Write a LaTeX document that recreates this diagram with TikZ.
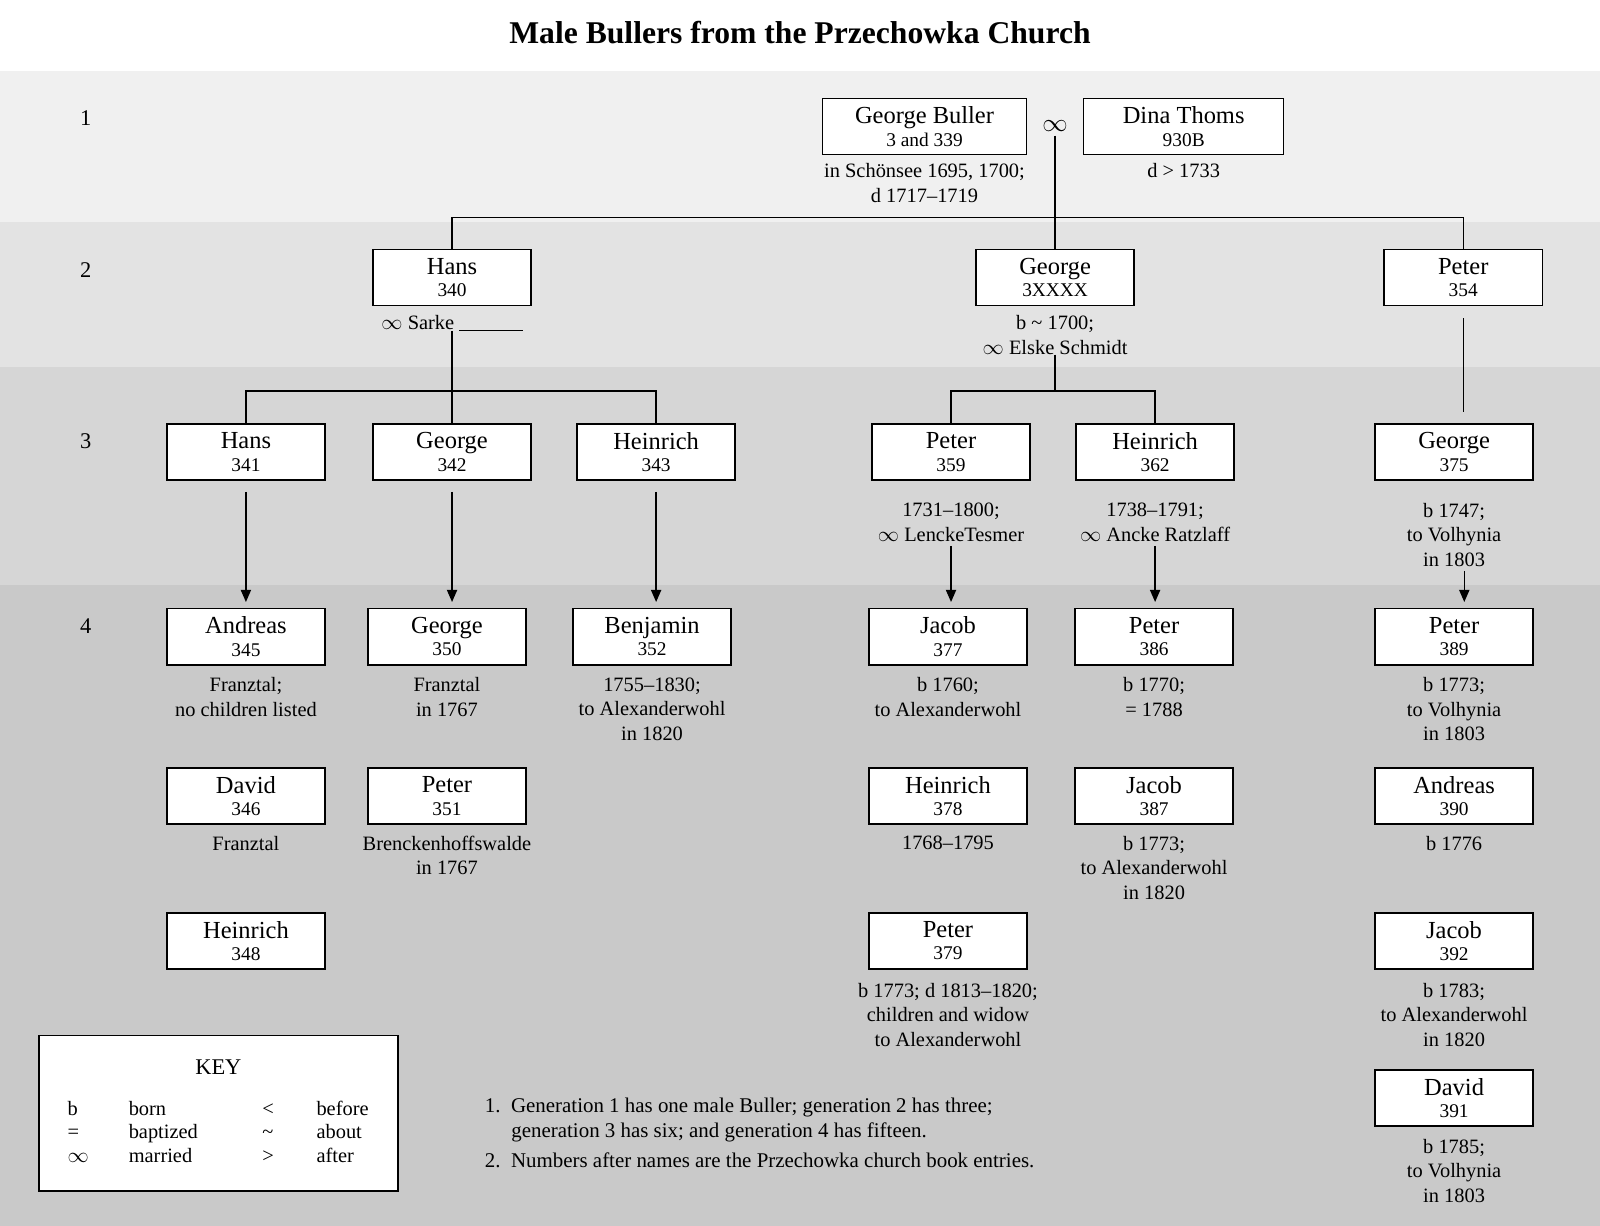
\documentclass[tikz,border=0pt]{standalone}
\usepackage{fontspec}
\setmainfont{Liberation Serif}
\usetikzlibrary{arrows.meta}
\begin{document}
\begin{tikzpicture}[x=1pt,y=-1pt,
 box/.style={draw,fill=white,line width=1.5pt,minimum width=155pt,minimum height=55pt,inner sep=0pt,align=center,font=\fontsize{24}{24}\selectfont},
 lab/.style={anchor=north,align=center,font=\fontsize{20}{24}\selectfont,inner sep=0pt},
 ln/.style={line width=1.5pt},
 ar/.style={line width=1.5pt,-{Triangle[length=12pt,width=10pt]}}]
\useasboundingbox (0,0) rectangle (1568,1201);
\fill[white] (0,0) rectangle (1568,70);
\fill[black!6] (0,70) rectangle (1568,218);
\fill[black!11] (0,218) rectangle (1568,360);
\fill[black!16] (0,360) rectangle (1568,573);
\fill[black!21] (0,573) rectangle (1568,1201);
\newcommand{\bx}[4]{\node[box] (#1) at (#2) {#3\\[-2pt]{\fontsize{19}{20}\selectfont #4}};}
\node[font=\fontsize{31}{31}\selectfont\bfseries] (title) at (784,32) {Male Bullers from the Przechowka Church};
\foreach \g/\y in {1/116,2/265,3/432,4/614} \node[font=\fontsize{22}{22}\selectfont] (g\g) at (84,\y) {\g};
% gen 1
\node[box,minimum width=200pt] (gb) at (906,124) {George Buller\\[-2pt]{\fontsize{19}{20}\selectfont 3 and 339}};
\node[box,minimum width=196pt] (dt) at (1160,124) {Dina Thoms\\[-2pt]{\fontsize{19}{20}\selectfont 930B}};
\node[font=\fontsize{24}{24}\selectfont] (m1) at (1034,124) {$\infty$};
\node[lab] (gbl) at (906,160) {in Schönsee 1695, 1700;\\d 1717–1719};
\node[lab] (dtl) at (1160,160) {d > 1733};
% gen 2
\bx{h340}{443,272}{Hans}{340}
\bx{g3x}{1034,272}{George}{3XXXX}
\bx{p354}{1434,272}{Peter}{354}
\node[lab] (h340l) at (443,309) {$\infty$ Sarke \rule[-1pt]{62pt}{0.6pt}};
\node[lab] (g3xl) at (1034,309) {b \textasciitilde\ 1700;\\$\infty$ Elske Schmidt};
% gen 3
\bx{h341}{241,443}{Hans}{341}
\bx{g342}{443,443}{George}{342}
\bx{h343}{643,443}{Heinrich}{343}
\bx{p359}{932,443}{Peter}{359}
\bx{h362}{1132,443}{Heinrich}{362}
\bx{g375}{1425,443}{George}{375}
\node[lab] (p359l) at (932,493) {1731–1800;\\$\infty$ LenckeTesmer};
\node[lab] (h362l) at (1132,493) {1738–1791;\\$\infty$ Ancke Ratzlaff};
\node[lab] (g375l) at (1425,493) {b 1747;\\to Volhynia\\in 1803};
% gen 4
\bx{a345}{241,624}{Andreas}{345}
\bx{g350}{438,624}{George}{350}
\bx{b352}{639,624}{Benjamin}{352}
\bx{j377}{929,624}{Jacob}{377}
\bx{p386}{1131,624}{Peter}{386}
\bx{p389}{1425,624}{Peter}{389}
\node[lab] (a345l) at (241,664) {Franztal;\\no children listed};
\node[lab] (g350l) at (438,664) {Franztal\\in 1767};
\node[lab] (b352l) at (639,664) {1755–1830;\\to Alexanderwohl\\in 1820};
\node[lab] (j377l) at (929,664) {b 1760;\\to Alexanderwohl};
\node[lab] (p386l) at (1131,664) {b 1770;\\= 1788};
\node[lab] (p389l) at (1425,664) {b 1773;\\to Volhynia\\in 1803};
\bx{d346}{241,780}{David}{346}
\bx{p351}{438,780}{Peter}{351}
\bx{h378}{929,780}{Heinrich}{378}
\bx{j387}{1131,780}{Jacob}{387}
\bx{a390}{1425,780}{Andreas}{390}
\node[lab] (d346l) at (241,819) {Franztal};
\node[lab] (p351l) at (438,819) {Brenckenhoffswalde\\in 1767};
\node[lab] (h378l) at (929,819) {1768–1795};
\node[lab] (j387l) at (1131,819) {b 1773;\\to Alexanderwohl\\in 1820};
\node[lab] (a390l) at (1425,819) {b 1776};
\bx{h348}{241,922}{Heinrich}{348}
\bx{p379}{929,922}{Peter}{379}
\bx{j392}{1425,922}{Jacob}{392}
\node[lab] (p379l) at (929,963) {b 1773; d 1813–1820;\\children and widow\\to Alexanderwohl};
\node[lab] (j392l) at (1425,963) {b 1783;\\to Alexanderwohl\\in 1820};
\bx{d391}{1425,1076}{David}{391}
\node[lab] (d391l) at (1425,1116) {b 1785;\\to Volhynia\\in 1803};
% connectors
\coordinate (c1) at (1034,213);
\draw[ln] (m1.south) -- (c1);
\draw[ln] (h340.north) |- (c1) -| (p354.north);
\draw[ln] (c1) -- (g3x.north);
\coordinate (c2) at (443,383);
\draw[ln] (h340l.south) -- (c2);
\draw[ln] (h341.north) |- (c2) -| (h343.north);
\draw[ln] (c2) -- (g342.north);
\coordinate (c3) at (1034,383);
\draw[ln] (g3xl.south) -- (c3);
\draw[ln] (p359.north) |- (c3) -| (h362.north);
\draw[ln] (1434,312) -- (1434,404);
\draw[ar] (241,482) -- (241,590);
\draw[ar] (443,482) -- (443,590);
\draw[ar] (643,482) -- (643,590);
\draw[ar] (p359l.south) ++(0,4) -- (932,590);
\draw[ar] (h362l.south) ++(0,4) -- (1132,590);
\draw[ar] (g375l.south) ++(10,4) -- (1435,590);
% key
\node[draw,fill=white,line width=1.5pt,minimum width=352pt,minimum height=152pt] (key) at (214,1091) {};
\node[font=\fontsize{22}{22}\selectfont] (kt) at (214,1046) {KEY};
\node[anchor=north west,inner sep=0pt,font=\fontsize{20}{24}\selectfont] (kb) at (66,1076) {\setlength{\tabcolsep}{0pt}\begin{tabular}{p{60pt}p{131pt}p{53pt}l}
b & born & < & before\\[-1pt]
= & baptized & \textasciitilde & about\\[-1pt]
$\infty$ & married & > & after\end{tabular}};
\node[anchor=north west,inner sep=0pt,align=left,font=\fontsize{20.5}{24}\selectfont] (notes) at (475,1076) {1.\ \ Generation 1 has one male Buller; generation 2 has three;\\
\hspace*{26pt}generation 3 has six; and generation 4 has fifteen.\\[6pt]
2.\ \ Numbers after names are the Przechowka church book entries.};
\end{tikzpicture}
\end{document}
